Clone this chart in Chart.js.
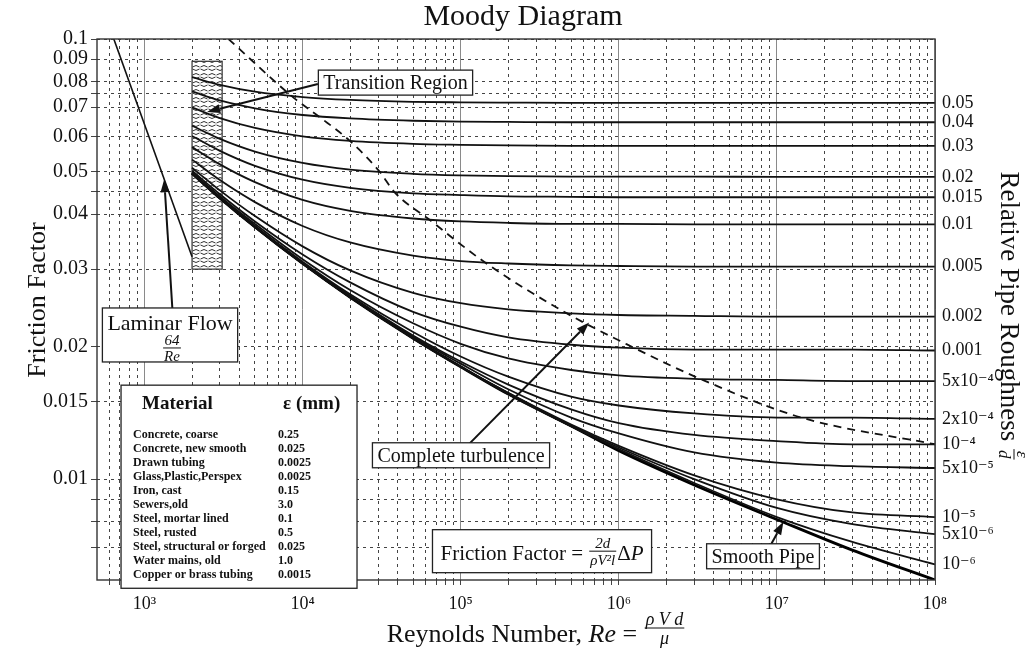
<!DOCTYPE html>
<html><head><meta charset="utf-8">
<script src="https://cdn.jsdelivr.net/npm/chart.js@4.4.1/dist/chart.umd.min.js"></script>
<style>html,body{margin:0;padding:0;background:#fff;}canvas{display:block;}</style>
</head><body>
<canvas id="c" width="1033" height="667"></canvas>
<script>
// ---- data ----
const reynolds = [2000, 3000, 5000, 1e4, 2e4, 5e4, 1e5, 2e5, 5e5, 1e6, 3e6, 1e7, 3e7, 1e8];
const f_0_05   = [0.0819, 0.0787, 0.0759, 0.0738, 0.0727, 0.0720, 0.0718, 0.0717, 0.0716, 0.0716, 0.0716, 0.0716, 0.0716, 0.0716];
const f_0_04   = [0.0760, 0.0725, 0.0696, 0.0672, 0.0660, 0.0652, 0.0649, 0.0648, 0.0647, 0.0647, 0.0647, 0.0647, 0.0647, 0.0647];
const f_0_03   = [0.0699, 0.0661, 0.0628, 0.0601, 0.0587, 0.0578, 0.0575, 0.0573, 0.0572, 0.0572, 0.0572, 0.0572, 0.0572, 0.0572];
const f_0_02   = [0.0635, 0.0593, 0.0555, 0.0523, 0.0505, 0.0494, 0.0490, 0.0488, 0.0487, 0.0487, 0.0487, 0.0486, 0.0486, 0.0486];
const f_0_015  = [0.0602, 0.0557, 0.0515, 0.0479, 0.0459, 0.0446, 0.0442, 0.0439, 0.0438, 0.0437, 0.0437, 0.0437, 0.0437, 0.0437];
const f_0_01   = [0.0568, 0.0519, 0.0473, 0.0431, 0.0407, 0.0391, 0.0385, 0.0382, 0.0380, 0.0380, 0.0379, 0.0379, 0.0379, 0.0379];
const f_0_005  = [0.0532, 0.0478, 0.0426, 0.0376, 0.0345, 0.0322, 0.0313, 0.0309, 0.0306, 0.0305, 0.0304, 0.0304, 0.0304, 0.0304];
const f_0_002  = [0.0510, 0.0453, 0.0396, 0.0338, 0.0298, 0.0265, 0.0251, 0.0243, 0.0238, 0.0236, 0.0235, 0.0234, 0.0234, 0.0234];
const f_0_001  = [0.0502, 0.0444, 0.0385, 0.0324, 0.0280, 0.0240, 0.0222, 0.0210, 0.0202, 0.0199, 0.0197, 0.0197, 0.0197, 0.0196];
const f_5e_4   = [0.0498, 0.0439, 0.0380, 0.0316, 0.0269, 0.0226, 0.0203, 0.0188, 0.0177, 0.0172, 0.0169, 0.0168, 0.0167, 0.0167];
const f_2e_4   = [0.0496, 0.0437, 0.0376, 0.0312, 0.0263, 0.0216, 0.0190, 0.0171, 0.0154, 0.0147, 0.0141, 0.0138, 0.0138, 0.0137];
const f_1e_4   = [0.0495, 0.0436, 0.0375, 0.0310, 0.0261, 0.0212, 0.0185, 0.0164, 0.0144, 0.0134, 0.0126, 0.0122, 0.0120, 0.0120];
const f_5e_5   = [0.0495, 0.0436, 0.0375, 0.0310, 0.0260, 0.0211, 0.0183, 0.0160, 0.0138, 0.0127, 0.0115, 0.0109, 0.0107, 0.0106];
const f_1e_5   = [0.0495, 0.0435, 0.0374, 0.0309, 0.0259, 0.0209, 0.0180, 0.0157, 0.0133, 0.0119, 0.0102, 0.0090, 0.0084, 0.0082];
const f_5e_6   = [0.0495, 0.0435, 0.0374, 0.0309, 0.0259, 0.0209, 0.0180, 0.0157, 0.0132, 0.0118, 0.0100, 0.0086, 0.0079, 0.0075];
const f_1e_6   = [0.0495, 0.0435, 0.0374, 0.0309, 0.0259, 0.0209, 0.0180, 0.0156, 0.0132, 0.0117, 0.0098, 0.0082, 0.0072, 0.0064];
const f_smooth = [0.0495, 0.0435, 0.0374, 0.0309, 0.0259, 0.0209, 0.0180, 0.0156, 0.0132, 0.0116, 0.0097, 0.0081, 0.0069, 0.0059];

const roughnessLabels = ['0.05', '0.04', '0.03', '0.02', '0.015', '0.01', '0.005', '0.002', '0.001',
  '5x10⁻⁴', '2x10⁻⁴', '10⁻⁴', '5x10⁻⁵', '10⁻⁵', '5x10⁻⁶', '10⁻⁶'];
const roughnessCurves = [f_0_05, f_0_04, f_0_03, f_0_02, f_0_015, f_0_01, f_0_005, f_0_002, f_0_001,
  f_5e_4, f_2e_4, f_1e_4, f_5e_5, f_1e_5, f_5e_6, f_1e_6];

const laminarRe = [640, 2000];
const laminarF  = [0.1, 0.032];
const turbulenceRe = [3400, 8800, 12800, 19900, 30800, 38100, 63200, 142000, 470000, 1240000, 3270000, 14300000, 100000000];
const turbulenceF  = [0.1, 0.0735, 0.0665, 0.0587, 0.0499, 0.0449, 0.0389, 0.0311, 0.0238, 0.0199, 0.0169, 0.0138, 0.0120];
const transitionRe = [2000, 3100];
const transitionF  = [0.030, 0.089];

const yTickValues = [0.1, 0.09, 0.08, 0.07, 0.06, 0.05, 0.04, 0.03, 0.02, 0.015, 0.01];
const yTickLabels = ['0.1', '0.09', '0.08', '0.07', '0.06', '0.05', '0.04', '0.03', '0.02', '0.015', '0.01'];
const yExtraGrid  = [0.075, 0.045, 0.009, 0.008, 0.007];
const xDecades      = [1e3, 1e4, 1e5, 1e6, 1e7, 1e8];
const xDecadeLabels = ['10³', '10⁴', '10⁵', '10⁶', '10⁷', '10⁸'];

const materialNames = ['Concrete, coarse', 'Concrete, new smooth', 'Drawn tubing', 'Glass,Plastic,Perspex',
  'Iron, cast', 'Sewers,old', 'Steel, mortar lined', 'Steel, rusted', 'Steel, structural or forged',
  'Water mains, old', 'Copper or brass tubing'];
const materialRoughness = ['0.25', '0.025', '0.0025', '0.0025', '0.15', '3.0', '0.1', '0.5', '0.025', '1.0', '0.0015'];

// ---- styling / layout ----
const FONT = '"Liberation Serif", "DejaVu Serif", serif';
Chart.defaults.font.family = FONT;
function font(size, style) { return (style ? style + ' ' : '') + size + 'px ' + FONT; }

const xGrid = [];
for (let e = 2; e <= 7; e++) for (let k = 1; k <= 9; k++) { const v = k * Math.pow(10, e); if (v >= 501) xGrid.push(v); }
xGrid.push(1e8);
const yGrid = yTickValues.concat(yExtraGrid).sort((a, b) => b - a);

const annotations = {
  transition: { text: 'Transition Region', re: 38700, f: 0.0796, tail: [12500, 0.0790], tip: [2490, 0.0683] },
  laminar: { re: 1451, f: 0.02126, tail: [1515, 0.0232], tip: [1333, 0.048] },
  turbulence: { text: 'Complete turbulence', re: 100500, f: 0.01133, tail: [103500, 0.01164], tip: [650000, 0.0227] },
  friction: { re: 327000, f: 0.00686 },
  smooth: { text: 'Smooth Pipe', re: 8170000, f: 0.00668, tail: [9050000, 0.00704], tip: [11000000, 0.0080] },
  table: { re1: 711, f1: 0.01635, re2: 22100, f2: 0.00565 }
};

function hatchTile() {
  const c = document.createElement('canvas'); c.width = 8; c.height = 8;
  const g = c.getContext('2d'); g.strokeStyle = '#333'; g.lineWidth = 1;
  g.beginPath(); g.moveTo(0.5, 3); g.quadraticCurveTo(4, 0, 7.5, 3); g.stroke();
  g.beginPath(); g.moveTo(0.5, 5); g.quadraticCurveTo(4, 8, 7.5, 5); g.stroke();
  return c;
}

function drawArrow(ctx, x1, y1, x2, y2) {
  const a = Math.atan2(y2 - y1, x2 - x1), L = 13, W = 4.5;
  const bx = x2 - L * Math.cos(a), by = y2 - L * Math.sin(a);
  ctx.strokeStyle = '#111'; ctx.fillStyle = '#111'; ctx.lineWidth = 2;
  ctx.beginPath(); ctx.moveTo(x1, y1); ctx.lineTo(bx, by); ctx.stroke();
  ctx.beginPath(); ctx.moveTo(x2, y2);
  ctx.lineTo(bx - W * Math.sin(a), by + W * Math.cos(a));
  ctx.lineTo(bx + W * Math.sin(a), by - W * Math.cos(a));
  ctx.closePath(); ctx.fill();
}
function drawBox(ctx, x, y, w, h) {
  ctx.fillStyle = '#fff'; ctx.fillRect(x, y, w, h);
  ctx.strokeStyle = '#222'; ctx.lineWidth = 1.3; ctx.strokeRect(x, y, w, h);
}
function fracWidth(ctx, p) {
  ctx.font = font(p.size, p.style);
  return Math.max(ctx.measureText(p.frac[0]).width, ctx.measureText(p.frac[1]).width) + 4;
}
function runWidth(ctx, parts) {
  let w = 0;
  for (const p of parts) {
    if (p.frac) w += fracWidth(ctx, p) + (p.gap || 0);
    else { ctx.font = font(p.size, p.style); w += ctx.measureText(p.t).width; }
  }
  return w;
}
function drawRun(ctx, parts, xLeft, yMid) {
  let x = xLeft;
  ctx.fillStyle = '#111'; ctx.strokeStyle = '#111';
  for (const p of parts) {
    if (p.frac) {
      const w = fracWidth(ctx, p);
      const yb = yMid + (p.bar || 0);
      ctx.textAlign = 'center'; ctx.textBaseline = 'alphabetic';
      ctx.fillText(p.frac[0], x + w / 2, yb - 3);
      ctx.textBaseline = 'top';
      ctx.fillText(p.frac[1], x + w / 2, yb + 2);
      ctx.lineWidth = 1; ctx.beginPath(); ctx.moveTo(x + 1, yb); ctx.lineTo(x + w - 1, yb); ctx.stroke();
      x += w + (p.gap || 0);
    } else {
      ctx.font = font(p.size, p.style); ctx.textAlign = 'left'; ctx.textBaseline = 'middle';
      ctx.fillText(p.t, x, yMid);
      x += ctx.measureText(p.t).width;
    }
  }
}

const moodyPlugin = {
  id: 'moody',
  beforeDatasetsDraw(chart) {
    const { ctx } = chart; const xs = chart.scales.x, ys = chart.scales.y;
    const x1 = xs.getPixelForValue(transitionRe[0]), x2 = xs.getPixelForValue(transitionRe[1]);
    const y1 = ys.getPixelForValue(transitionF[1]), y2 = ys.getPixelForValue(transitionF[0]);
    ctx.save();
    ctx.fillStyle = '#fff'; ctx.fillRect(x1, y1, x2 - x1, y2 - y1);
    ctx.fillStyle = ctx.createPattern(hatchTile(), 'repeat'); ctx.fillRect(x1, y1, x2 - x1, y2 - y1);
    ctx.strokeStyle = '#333'; ctx.lineWidth = 1.2; ctx.strokeRect(x1, y1, x2 - x1, y2 - y1);
    ctx.restore();
  },
  afterDatasetsDraw(chart) {
    const { ctx, chartArea: ca } = chart; const xs = chart.scales.x, ys = chart.scales.y;
    const P = (re, f) => [xs.getPixelForValue(re), ys.getPixelForValue(f)];
    ctx.save();
    // frame
    ctx.strokeStyle = '#333'; ctx.lineWidth = 1.4;
    ctx.strokeRect(ca.left, ca.top, ca.right - ca.left, ca.bottom - ca.top);
    // curve labels on the right
    ctx.fillStyle = '#111'; ctx.font = font(18); ctx.textAlign = 'left'; ctx.textBaseline = 'middle';
    roughnessLabels.forEach((lab, i) => {
      const pts = chart.getDatasetMeta(i).data; const pt = pts[pts.length - 1];
      ctx.fillText(lab, ca.right + 7, pt.y);
    });
    // arrows (drawn first, boxes cover their tails)
    for (const key of ['transition', 'laminar', 'turbulence', 'smooth']) {
      const a = annotations[key]; const t = P(a.tail[0], a.tail[1]); const h = P(a.tip[0], a.tip[1]);
      drawArrow(ctx, t[0], t[1], h[0], h[1]);
    }
    // simple text boxes
    for (const key of ['transition', 'turbulence', 'smooth']) {
      const a = annotations[key]; const c = P(a.re, a.f);
      ctx.font = font(20); const w = ctx.measureText(a.text).width + 10, h = 25;
      drawBox(ctx, c[0] - w / 2, c[1] - h / 2, w, h);
      ctx.fillStyle = '#111'; ctx.textAlign = 'center'; ctx.textBaseline = 'middle';
      ctx.fillText(a.text, c[0], c[1] + 1);
    }
    // laminar box
    {
      const a = annotations.laminar; const c = P(a.re, a.f);
      ctx.font = font(22); const w = ctx.measureText('Laminar Flow').width + 10, h = 54;
      drawBox(ctx, c[0] - w / 2, c[1] - h / 2, w, h);
      ctx.fillStyle = '#111'; ctx.textAlign = 'center'; ctx.textBaseline = 'middle';
      ctx.fillText('Laminar Flow', c[0], c[1] - 11);
      const part = { frac: ['64', 'Re'], size: 15, style: 'italic' };
      const fw = fracWidth(ctx, part);
      drawRun(ctx, [part], c[0] - fw / 2 + 2, c[1] + 13);
    }
    // friction factor box
    {
      const a = annotations.friction; const c = P(a.re, a.f);
      const parts = [{ t: 'Friction Factor = ', size: 21 }, { frac: ['2d', 'ρV²l'], size: 15, style: 'italic', bar: -3 },
        { t: 'Δ', size: 21 }, { t: 'P', size: 21, style: 'italic' }];
      const w = runWidth(ctx, parts) + 16, h = 43;
      drawBox(ctx, c[0] - w / 2, c[1] - h / 2, w, h);
      drawRun(ctx, parts, c[0] - w / 2 + 8, c[1] + 3);
    }
    // material table
    {
      const t = annotations.table; const p1 = P(t.re1, t.f1), p2 = P(t.re2, t.f2);
      drawBox(ctx, p1[0], p1[1], p2[0] - p1[0], p2[1] - p1[1]);
      ctx.fillStyle = '#111'; ctx.textAlign = 'left'; ctx.textBaseline = 'middle';
      ctx.font = font(19, 'bold');
      ctx.fillText('Material', p1[0] + 21, p1[1] + 19);
      ctx.fillText('ε (mm)', p1[0] + 162, p1[1] + 19);
      ctx.font = font(12, 'bold');
      materialNames.forEach((n, i) => {
        const yy = p1[1] + 50 + i * 14;
        ctx.fillText(n, p1[0] + 12, yy);
        ctx.fillText(materialRoughness[i], p1[0] + 157, yy);
      });
    }
    ctx.restore();
  },
  afterDraw(chart) {
    const { ctx } = chart;
    ctx.save();
    ctx.fillStyle = '#111'; ctx.strokeStyle = '#111';
    // title
    ctx.font = font(30); ctx.textAlign = 'center'; ctx.textBaseline = 'middle';
    ctx.fillText('Moody Diagram', 523, 17);
    // y axis title
    ctx.save(); ctx.translate(38, 300); ctx.rotate(-Math.PI / 2);
    ctx.font = font(26); ctx.textAlign = 'center'; ctx.textBaseline = 'middle';
    ctx.fillText('Friction Factor', 0, 0); ctx.restore();
    // x axis title
    const xParts = [{ t: 'Reynolds Number, ', size: 26 }, { t: 'Re', size: 26, style: 'italic' }, { t: ' = ', size: 26 },
      { frac: ['ρ V d', 'μ'], size: 18, style: 'italic', bar: -7 }];
    const xw = runWidth(ctx, xParts);
    drawRun(ctx, xParts, 536 - xw / 2, 635);
    // right axis title
    const rParts = [{ t: 'Relative Pipe Roughness ', size: 27 }, { frac: ['ε', 'd'], size: 17, style: 'italic', bar: -6 }];
    const rw = runWidth(ctx, rParts);
    ctx.save(); ctx.translate(1008, 316); ctx.rotate(Math.PI / 2);
    drawRun(ctx, rParts, -rw / 2, 0); ctx.restore();
    ctx.restore();
  }
};

const datasets = roughnessCurves.map((arr, i) => ({
  label: roughnessLabels[i],
  data: reynolds.map((r, j) => ({ x: r, y: arr[j] })),
  borderColor: '#111', borderWidth: 1.8, pointRadius: 0, cubicInterpolationMode: 'monotone', fill: false
}));
datasets.push({ label: 'Smooth Pipe', data: reynolds.map((r, j) => ({ x: r, y: f_smooth[j] })),
  borderColor: '#000', borderWidth: 2.8, pointRadius: 0, cubicInterpolationMode: 'monotone', fill: false });
datasets.push({ label: 'Laminar Flow', data: laminarRe.map((r, j) => ({ x: r, y: laminarF[j] })),
  borderColor: '#111', borderWidth: 1.6, pointRadius: 0, fill: false });
datasets.push({ label: 'Complete turbulence', data: turbulenceRe.map((r, j) => ({ x: r, y: turbulenceF[j] })),
  borderColor: '#111', borderWidth: 1.8, borderDash: [8, 6], pointRadius: 0, cubicInterpolationMode: 'monotone', fill: false });

new Chart(document.getElementById('c'), {
  type: 'line',
  data: { datasets },
  options: {
    responsive: false, animation: false, devicePixelRatio: 1,
    layout: { padding: { top: 39, right: 98, left: 0, bottom: 0 } },
    plugins: { legend: { display: false }, tooltip: { enabled: false }, title: { display: false } },
    elements: { point: { radius: 0 } },
    scales: {
      x: {
        type: 'logarithmic', min: 501, max: 1e8,
        afterBuildTicks: (s) => { s.ticks = xGrid.map(v => ({ value: v })); },
        afterFit: (s) => { s.height = 87; },
        ticks: {
          autoSkip: false, maxRotation: 0, minRotation: 0, padding: 8, color: '#111', font: { size: 18 },
          callback: (v) => { const i = xDecades.indexOf(v); return i >= 0 ? xDecadeLabels[i] : ''; }
        },
        grid: {
          color: (c) => xDecades.indexOf(c.tick && c.tick.value) >= 0 ? '#8a8a8a' : '#444',
          lineWidth: 1, tickLength: 5, tickColor: '#444'
        },
        border: { display: false, dash: (c) => (c.tick && xDecades.indexOf(c.tick.value) >= 0) ? [] : [3, 4] }
      },
      y: {
        type: 'logarithmic', position: 'left', min: 0.0059, max: 0.1,
        afterBuildTicks: (s) => { s.ticks = yGrid.map(v => ({ value: v })); },
        afterFit: (s) => { s.width = 97; },
        ticks: {
          autoSkip: false, padding: 3, color: '#111', font: { size: 20 },
          callback: (v) => { const i = yTickValues.indexOf(v); return i >= 0 ? yTickLabels[i] : ''; }
        },
        grid: { color: '#444', lineWidth: 1, tickLength: 6, tickColor: '#444' },
        border: { display: false, dash: [3, 4] }
      }
    }
  },
  plugins: [moodyPlugin]
});
</script>
</body></html>
